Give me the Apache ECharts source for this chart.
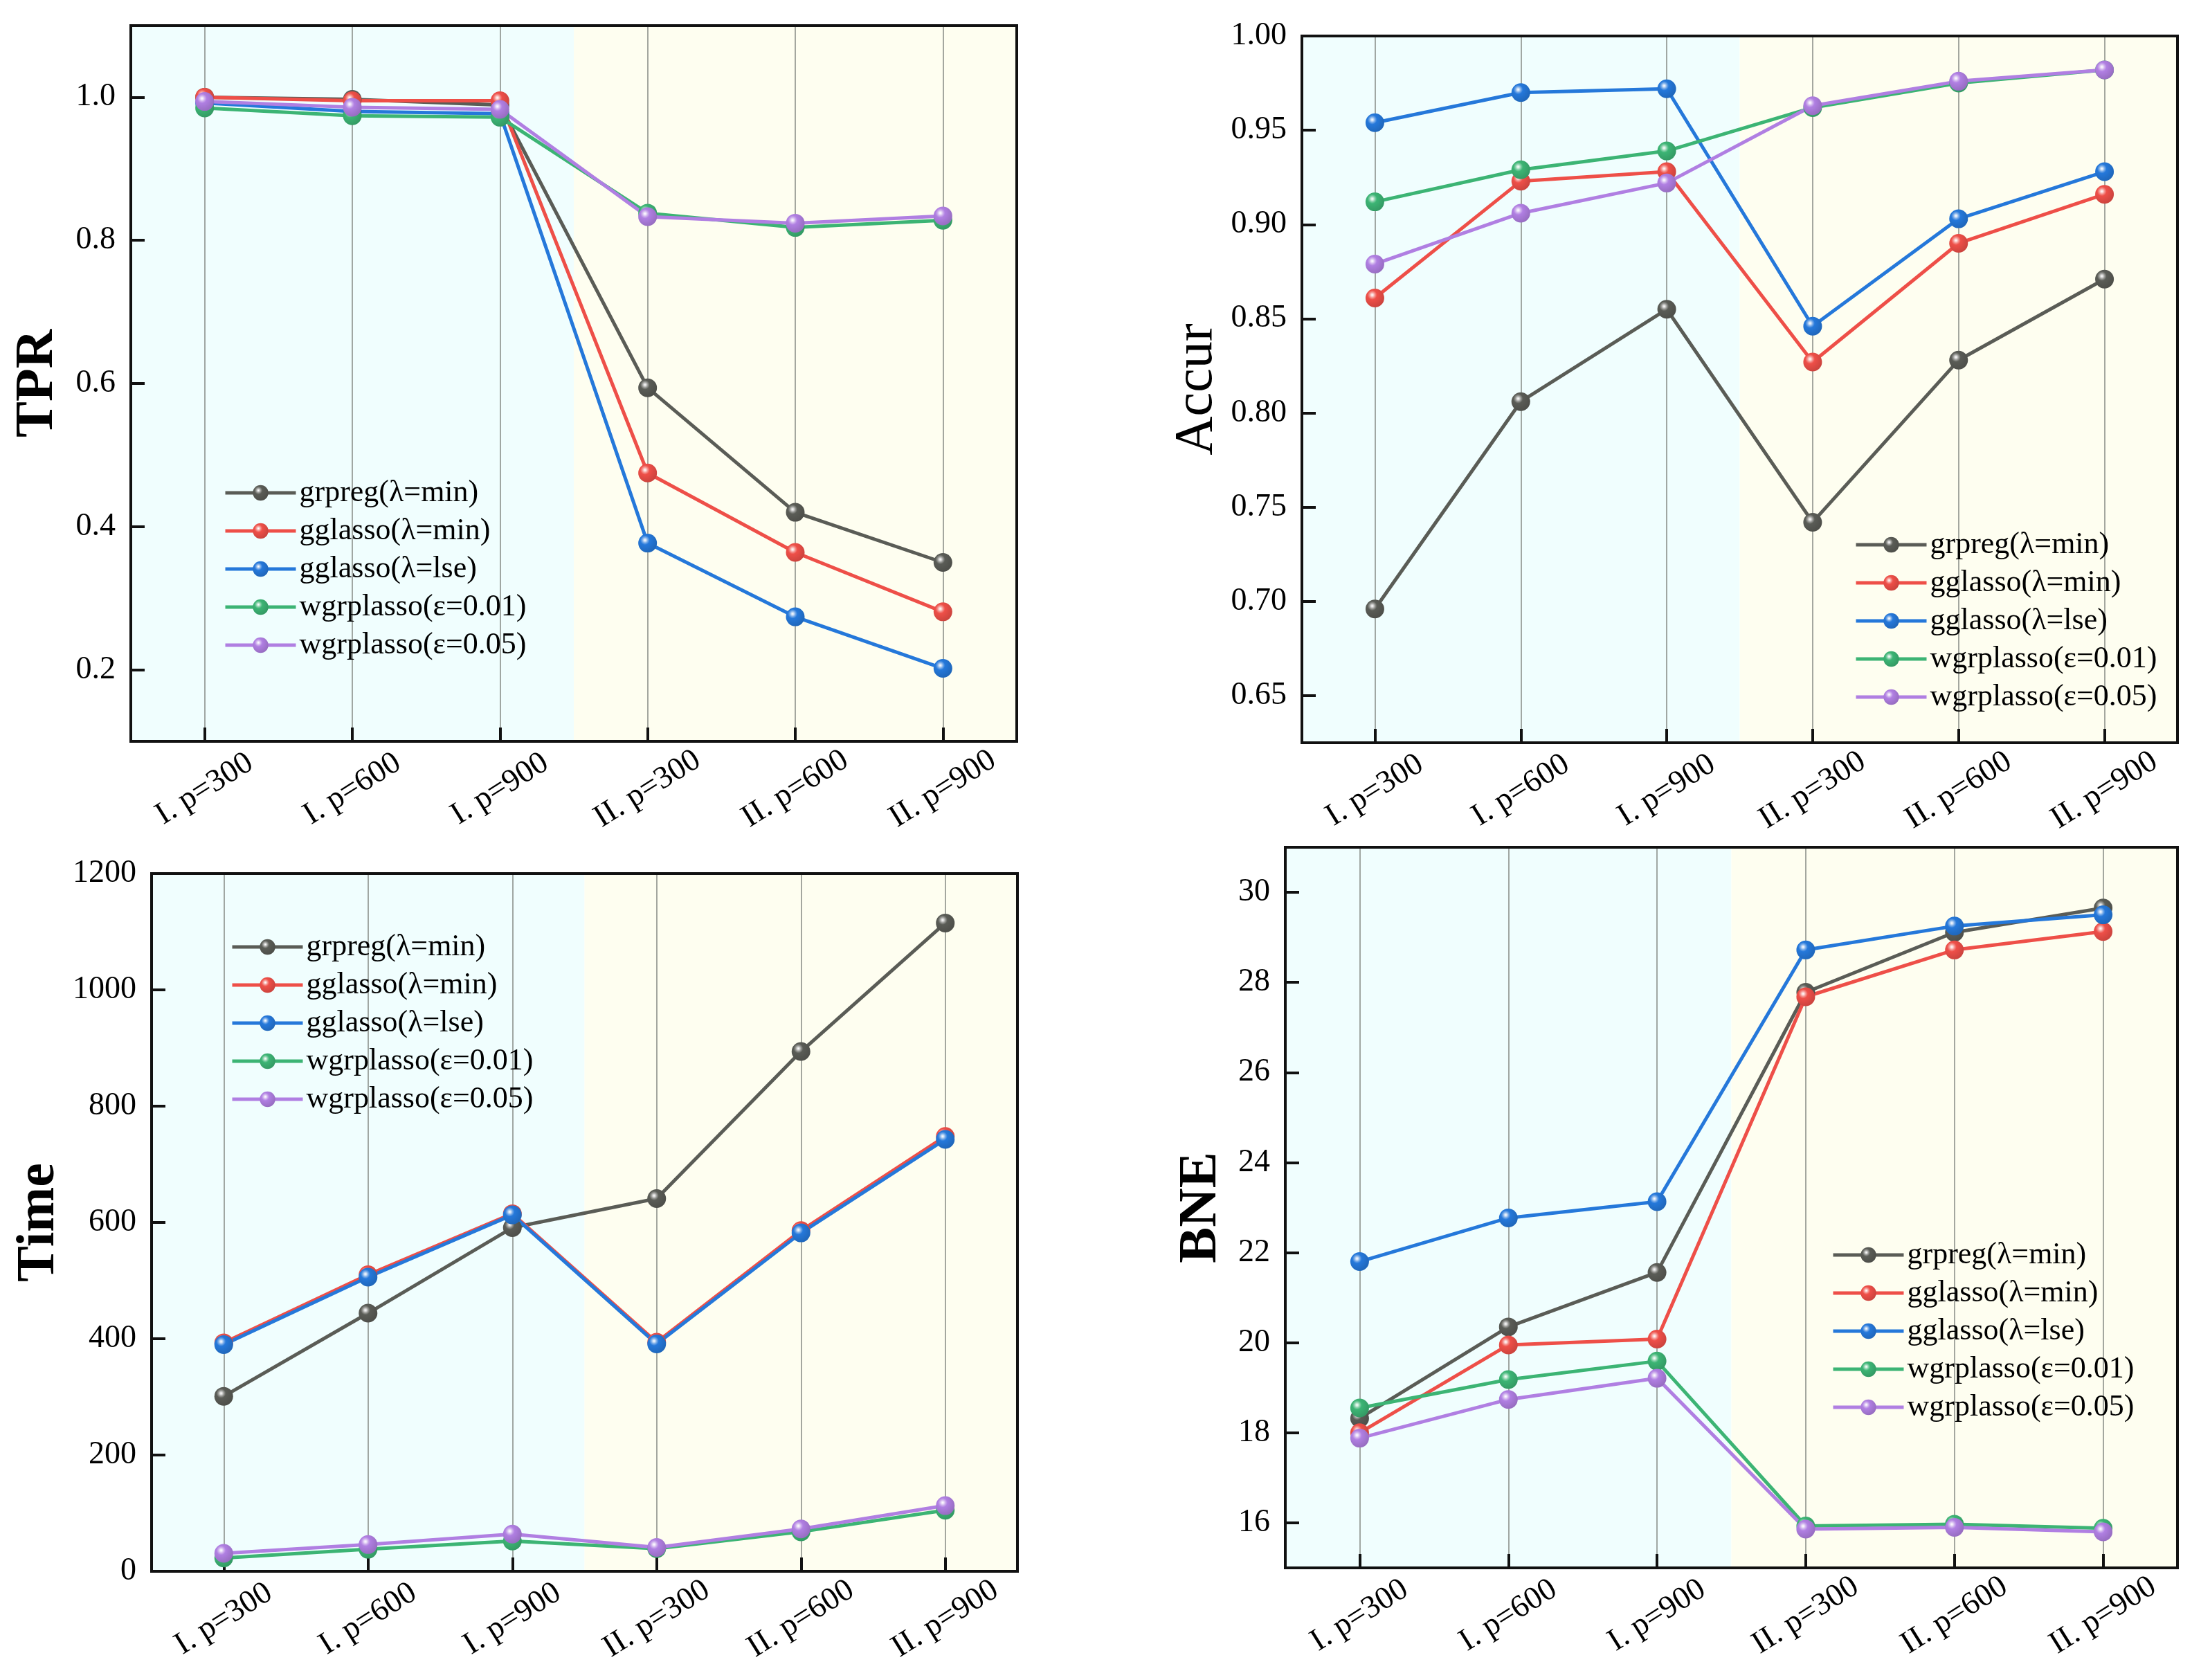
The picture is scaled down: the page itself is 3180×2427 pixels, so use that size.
<!DOCTYPE html>
<html><head><meta charset="utf-8">
<script src="https://cdn.jsdelivr.net/npm/echarts@6/dist/echarts.min.js"></script>
<style>html,body{margin:0;padding:0;background:#fff}#chart{width:3180px;height:2427px}</style>
</head><body><div id="chart"></div>
<script>
// ---------------- DATA ----------------
const categories = ['I. p=300', 'I. p=600', 'I. p=900', 'II. p=300', 'II. p=600', 'II. p=900'];
const seriesNames = ['grpreg(λ=min)', 'gglasso(λ=min)', 'gglasso(λ=lse)', 'wgrplasso(ε=0.01)', 'wgrplasso(ε=0.05)'];

// rows follow seriesNames order
const tprValues = [
  [1.000, 0.997, 0.989, 0.594, 0.420, 0.350],
  [1.000, 0.995, 0.995, 0.475, 0.364, 0.281],
  [0.992, 0.980, 0.977, 0.377, 0.274, 0.202],
  [0.985, 0.974, 0.972, 0.838, 0.818, 0.828],
  [0.994, 0.986, 0.983, 0.833, 0.824, 0.834]
];
const accurValues = [
  [0.696, 0.806, 0.855, 0.742, 0.828, 0.871],
  [0.861, 0.923, 0.928, 0.827, 0.890, 0.916],
  [0.954, 0.970, 0.972, 0.846, 0.903, 0.928],
  [0.912, 0.929, 0.939, 0.962, 0.975, 0.982],
  [0.879, 0.906, 0.922, 0.963, 0.976, 0.982]
];
const timeValues = [
  [301, 444, 591, 641, 894, 1115],
  [393, 510, 615, 394, 586, 748],
  [390, 506, 613, 391, 582, 743],
  [23, 38, 52, 39, 68, 105],
  [31, 46, 64, 41, 73, 113]
];
const bneValues = [
  [18.32, 20.35, 21.56, 27.78, 29.11, 29.65],
  [18.00, 19.95, 20.08, 27.68, 28.72, 29.13],
  [21.80, 22.77, 23.13, 28.72, 29.25, 29.50],
  [18.55, 19.18, 19.59, 15.93, 15.97, 15.88],
  [17.88, 18.74, 19.21, 15.86, 15.90, 15.80]
];

const tprTicks = [0.2, 0.4, 0.6, 0.8, 1.0];
const accurTicks = [0.65, 0.70, 0.75, 0.80, 0.85, 0.90, 0.95, 1.00];
const timeTicks = [0, 200, 400, 600, 800, 1000, 1200];
const bneTicks = [16, 18, 20, 22, 24, 26, 28, 30];

// ---------------- STYLE ----------------
const FONT = '"Liberation Serif", "Times New Roman", serif';
const colors = ['#5a5c56', '#ee4f48', '#2578da', '#3cb474', '#b07fe2'];
const bandCyan = '#F0FEFE';
const bandYellow = '#FEFEF0';

function mix(hex, target, t) {
  const a = parseInt(hex.slice(1), 16), b = parseInt(target.slice(1), 16);
  const ch = (v, s) => (v >> s) & 255;
  const r = Math.round(ch(a,16) + (ch(b,16) - ch(a,16)) * t);
  const g = Math.round(ch(a,8) + (ch(b,8) - ch(a,8)) * t);
  const bl = Math.round(ch(a,0) + (ch(b,0) - ch(a,0)) * t);
  return 'rgb(' + r + ',' + g + ',' + bl + ')';
}
function sphere(c) {
  return {
    type: 'radial', x: 0.36, y: 0.34, r: 0.7,
    colorStops: [
      { offset: 0, color: '#ffffff' },
      { offset: 0.1, color: mix(c, '#ffffff', 0.75) },
      { offset: 0.22, color: mix(c, '#ffffff', 0.35) },
      { offset: 0.36, color: c },
      { offset: 1, color: mix(c, '#000000', 0.15) }
    ]
  };
}

const panels = [
  { values: tprValues, ticks: tprTicks, min: 0.1, max: 1.1, dec: 1, name: 'TPR', weight: 'bold', nameGap: 95,
    grid: { left: 189, top: 37, width: 1280, height: 1034 }, legend: { left: 323, top: 690 } },
  { values: accurValues, ticks: accurTicks, min: 0.625, max: 1.0, dec: 2, name: 'Accur', weight: 'normal', nameGap: 112,
    grid: { left: 1881, top: 52, width: 1265, height: 1021 }, legend: { left: 2679, top: 765 } },
  { values: timeValues, ticks: timeTicks, min: 0, max: 1200, dec: 0, name: 'Time', weight: 'bold', nameGap: 123,
    grid: { left: 219, top: 1262, width: 1251, height: 1008 }, legend: { left: 333, top: 1346 } },
  { values: bneValues, ticks: bneTicks, min: 15, max: 31, dec: 0, name: 'BNE', weight: 'bold', nameGap: 82,
    grid: { left: 1857, top: 1224, width: 1289, height: 1041 }, legend: { left: 2646, top: 1791 } }
];

const grids = [], xAxes = [], yAxes = [], series = [], legends = [];
panels.forEach((p, i) => {
  grids.push(Object.assign({ show: true, borderColor: '#111', borderWidth: 4, backgroundColor: 'transparent', z: 1 }, p.grid));
  xAxes.push({
    type: 'category', gridIndex: i, data: categories, boundaryGap: true,
    axisLine: { show: true, lineStyle: { color: '#111', width: 4 } },
    axisTick: { show: true, inside: true, alignWithLabel: true, interval: 0, length: 20, lineStyle: { color: '#111', width: 4 } },
    axisLabel: { interval: 0, rotate: 32, align: 'center', verticalAlign: 'middle', margin: 69,
      fontSize: 46, fontFamily: FONT, color: '#000' },
    splitLine: { show: true, alignWithLabel: true, interval: 0, lineStyle: { color: '#868a84', width: 1.5 } },
    splitArea: { show: true, interval: 0, areaStyle: { color: [bandCyan, bandCyan, bandCyan, bandYellow, bandYellow, bandYellow] } }
  });
  yAxes.push({
    type: 'value', gridIndex: i, min: p.min, max: p.max,
    axisLine: { show: true, lineStyle: { color: '#111', width: 4 } },
    axisTick: { show: true, inside: true, length: 20, customValues: p.ticks, lineStyle: { color: '#111', width: 4 } },
    axisLabel: { customValues: p.ticks, formatter: v => Number(v).toFixed(p.dec), margin: 22,
      fontSize: 46, fontFamily: FONT, color: '#000' },
    splitLine: { show: false },
    name: p.name, nameLocation: 'middle', nameGap: p.nameGap,
    nameTextStyle: { fontSize: 78, fontWeight: p.weight, fontFamily: FONT, color: '#000' }
  });
  p.values.forEach((vals, k) => {
    series.push({
      type: 'line', name: seriesNames[k], xAxisIndex: i, yAxisIndex: i, data: vals,
      symbol: 'circle', symbolSize: 27, showSymbol: true,
      lineStyle: { color: colors[k], width: 5 },
      itemStyle: { color: sphere(colors[k]) },
      emphasis: { disabled: true }, z: 2
    });
  });
  legends.push({
    data: seriesNames, orient: 'vertical', left: p.legend.left, top: p.legend.top, padding: 0,
    itemWidth: 102, itemHeight: 28, itemGap: 11,
    lineStyle: { width: 5 },
    textStyle: { fontSize: 44, lineHeight: 44, fontFamily: FONT, color: '#000' }
  });
});

const chart = echarts.init(document.getElementById('chart'), null, { renderer: 'canvas' });
chart.setOption({
  backgroundColor: '#ffffff',
  animation: false,
  grid: grids, xAxis: xAxes, yAxis: yAxes, series: series, legend: legends
});
</script>
</body></html>
